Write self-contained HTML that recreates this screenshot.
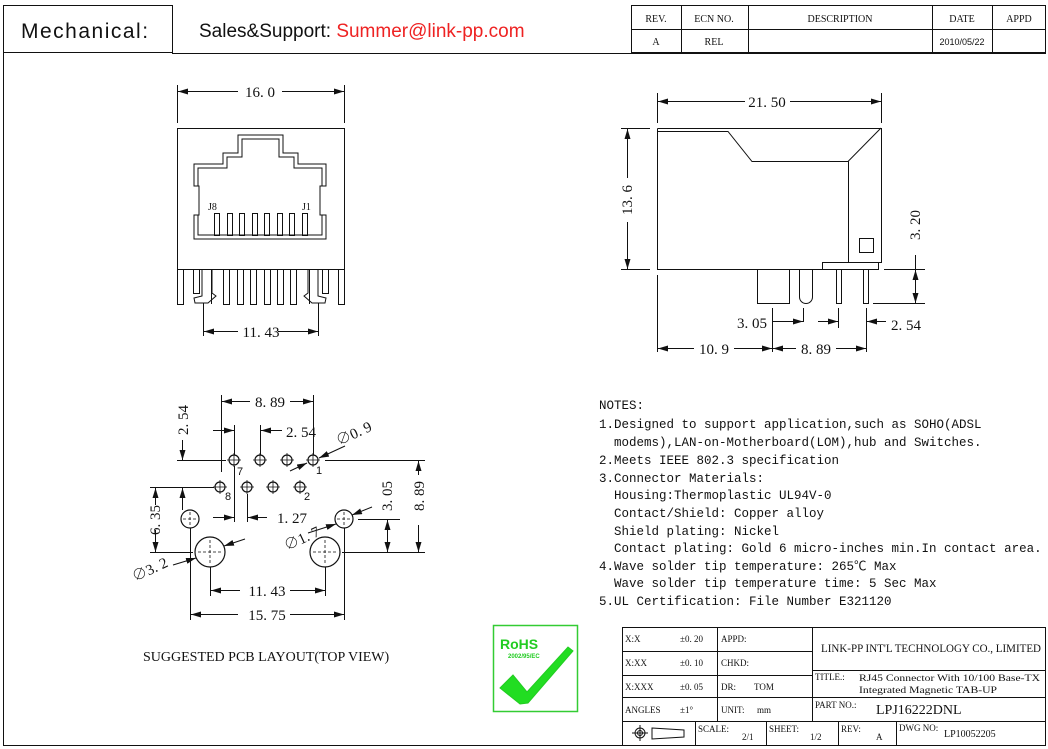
<!DOCTYPE html>
<html><head><meta charset="utf-8"><style>
html,body{margin:0;padding:0;background:#fff;}
svg{display:block;}
text{font-family:"Liberation Serif","Noto Serif CJK SC",serif;fill:#111;}
text.s{font-family:"Liberation Sans","Noto Sans CJK SC",sans-serif;}
.m text{font-family:"Liberation Mono","Noto Sans CJK SC",monospace;}
</style></head><body>
<svg width="1048" height="749" viewBox="0 0 1048 749" xmlns="http://www.w3.org/2000/svg">
<defs>
<marker id="a" viewBox="0 0 10 6" refX="10" refY="3" markerWidth="10" markerHeight="6" orient="auto-start-reverse" markerUnits="userSpaceOnUse"><path d="M0,0L10,3L0,6z" fill="#111"/></marker>
</defs>
<g fill="none" stroke="#111" stroke-width="1">
<rect x="3.5" y="5.5" width="169" height="47"/>
<line x1="3.5" y1="52.5" x2="3.5" y2="745.5"/>
<line x1="172" y1="53.5" x2="1046" y2="53.5"/>
<line x1="3" y1="745.5" x2="1046" y2="745.5"/>
<rect x="631.5" y="5.5" width="414" height="47"/>
<line x1="631" y1="29.5" x2="1046" y2="29.5"/>
<line x1="681.5" y1="5" x2="681.5" y2="52"/>
<line x1="748.5" y1="5" x2="748.5" y2="52"/>
<line x1="932.5" y1="5" x2="932.5" y2="52"/>
<line x1="992.5" y1="5" x2="992.5" y2="52"/>

<rect x="177.5" y="128.5" width="167" height="141"/>
<path d="M194,186V164H223V153H238V135H283V153H298V164H326V186H320V215H326V239H194V215H199V186Z"/>
<path d="M198,186V168H227V157H242V139H279V157H294V168H322V186M322,215V235H198V215"/>
<g>
<rect x="214.5" y="213.5" width="5" height="22"/><rect x="227.5" y="213.5" width="5" height="22"/><rect x="239.5" y="213.5" width="5" height="22"/><rect x="252.5" y="213.5" width="5" height="22"/><rect x="264.5" y="213.5" width="5" height="22"/><rect x="277.5" y="213.5" width="5" height="22"/><rect x="289.5" y="213.5" width="5" height="22"/><rect x="302.5" y="213.5" width="5" height="22"/>
</g>
<g>
<rect x="177.5" y="269.5" width="6" height="35"/><rect x="193.5" y="269.5" width="6" height="24"/><rect x="223.5" y="269.5" width="6" height="35"/><rect x="237.5" y="269.5" width="6" height="35"/><rect x="250.5" y="269.5" width="6" height="35"/><rect x="264.5" y="269.5" width="6" height="35"/><rect x="277.5" y="269.5" width="6" height="35"/><rect x="290.5" y="269.5" width="6" height="35"/><rect x="322.5" y="269.5" width="6" height="24"/><rect x="338.5" y="269.5" width="6" height="35"/>
<path d="M202,269V296L194,298L195,303H208L216,296L212,293V269"/>
<path d="M318,269V296L326,298L325,303H312L304,296L308,293V269"/>
<line x1="211.5" y1="269" x2="211.5" y2="304"/><line x1="309.5" y1="269" x2="309.5" y2="304"/>
</g>
<line x1="177.5" y1="85" x2="177.5" y2="123"/><line x1="344.5" y1="85" x2="344.5" y2="123"/>
<line x1="178" y1="91.5" x2="238" y2="91.5" marker-start="url(#a)"/><line x1="282" y1="91.5" x2="344" y2="91.5" marker-end="url(#a)"/>
<line x1="203.5" y1="303" x2="203.5" y2="336"/><line x1="318.5" y1="303" x2="318.5" y2="336"/>
<line x1="204" y1="331.5" x2="238" y2="331.5" marker-start="url(#a)"/><line x1="278" y1="331.5" x2="318" y2="331.5" marker-end="url(#a)"/>

<path d="M657.5,128.5H881.5V262.5H848.5V161.5M657.5,128.5V269.5H822.5"/>
<path d="M657,131.5H728L752,161.5H848L881,128"/>
<rect x="822.5" y="262.5" width="56" height="7"/>
<rect x="859.5" y="238.5" width="14" height="14"/>
<path d="M757.5,269.5V303.5H789.5V269.5"/>
<path d="M799.5,269.5V297A6.5,6.5 0 0 0 812.5,297V269.5"/>
<rect x="836.5" y="269.5" width="5" height="34"/><rect x="863.5" y="269.5" width="5" height="34"/>
<line x1="657.5" y1="93" x2="657.5" y2="123"/><line x1="881.5" y1="93" x2="881.5" y2="123"/>
<line x1="658" y1="101.5" x2="745" y2="101.5" marker-start="url(#a)"/><line x1="790" y1="101.5" x2="881" y2="101.5" marker-end="url(#a)"/>
<line x1="621" y1="128.5" x2="650" y2="128.5"/><line x1="621" y1="269.5" x2="650" y2="269.5"/>
<line x1="627.5" y1="129" x2="627.5" y2="178" marker-start="url(#a)"/><line x1="627.5" y1="222" x2="627.5" y2="269" marker-end="url(#a)"/>
<line x1="884" y1="269.5" x2="925" y2="269.5"/><line x1="873" y1="303.5" x2="925" y2="303.5"/>
<line x1="915.5" y1="255" x2="915.5" y2="303" marker-end="url(#a)"/><line x1="915.5" y1="285" x2="915.5" y2="270" marker-end="url(#a)"/>
<line x1="657.5" y1="275" x2="657.5" y2="352"/>
<line x1="772.5" y1="308" x2="772.5" y2="352"/><line x1="803.5" y1="308" x2="803.5" y2="322"/>
<line x1="838.5" y1="308" x2="838.5" y2="328"/><line x1="866.5" y1="308" x2="866.5" y2="352"/>
<line x1="773" y1="321.5" x2="803" y2="321.5" marker-end="url(#a)"/>
<line x1="818" y1="321.5" x2="838" y2="321.5" marker-end="url(#a)"/>
<line x1="886" y1="321.5" x2="867" y2="321.5" marker-end="url(#a)"/>
<line x1="658" y1="348.5" x2="694" y2="348.5" marker-start="url(#a)"/><line x1="734" y1="348.5" x2="772" y2="348.5" marker-end="url(#a)"/>
<line x1="773" y1="348.5" x2="796" y2="348.5" marker-start="url(#a)"/><line x1="836" y1="348.5" x2="866" y2="348.5" marker-end="url(#a)"/>

<g stroke-width="1.2">
<circle cx="234" cy="460" r="5"/><circle cx="260" cy="460" r="5"/><circle cx="287" cy="460" r="5"/><circle cx="313" cy="460" r="5"/>
<circle cx="220" cy="487" r="5"/><circle cx="247" cy="487" r="5"/><circle cx="273" cy="487" r="5"/><circle cx="300" cy="487" r="5"/>
<circle cx="190" cy="519" r="9"/><circle cx="344" cy="519" r="9"/>
<circle cx="210" cy="552" r="15"/><circle cx="325" cy="552" r="15"/>
</g>
<path d="M227,460h14M253,460h14M280,460h14M306,460h14M234,453v14M260,453v14M287,453v14M313,453v14M213,487h14M240,487h14M266,487h14M293,487h14M220,480v14M247,480v14M273,480v14M300,480v14" stroke-width="0.8"/>
<path d="M183,519h14M190,512v14M337,519h14M344,512v14M198,552h24M210,540v24M313,552h24M325,540v24" stroke-dasharray="3,2" stroke-width="0.8"/>
<line x1="221.5" y1="395" x2="221.5" y2="472"/><line x1="313.5" y1="395" x2="313.5" y2="455"/>
<line x1="222" y1="401.5" x2="250" y2="401.5" marker-start="url(#a)"/><line x1="290" y1="401.5" x2="313" y2="401.5" marker-end="url(#a)"/>
<line x1="234.5" y1="425" x2="234.5" y2="455"/><line x1="234.5" y1="466" x2="234.5" y2="522"/>
<line x1="213" y1="430.5" x2="234" y2="430.5" marker-end="url(#a)"/>
<line x1="260.5" y1="425" x2="260.5" y2="455"/>
<line x1="282" y1="430.5" x2="261" y2="430.5" marker-end="url(#a)"/>
<line x1="177" y1="460.5" x2="226" y2="460.5"/>
<line x1="182.5" y1="440" x2="182.5" y2="460" marker-end="url(#a)"/>
<line x1="150" y1="487.5" x2="214" y2="487.5"/><line x1="150" y1="552.5" x2="193" y2="552.5"/>
<line x1="155.5" y1="488" x2="155.5" y2="505" marker-start="url(#a)"/><line x1="155.5" y1="530" x2="155.5" y2="552" marker-end="url(#a)"/>
<line x1="182.5" y1="510" x2="182.5" y2="488" marker-end="url(#a)"/>
<line x1="247.5" y1="494" x2="247.5" y2="522"/>
<line x1="213" y1="517.5" x2="234" y2="517.5" marker-end="url(#a)"/>
<line x1="267" y1="517.5" x2="248" y2="517.5" marker-end="url(#a)"/>
<line x1="358" y1="519.5" x2="400" y2="519.5"/><line x1="342" y1="552.5" x2="425" y2="552.5"/>
<line x1="387.5" y1="535" x2="387.5" y2="520" marker-end="url(#a)"/><line x1="387.5" y1="535" x2="387.5" y2="552" marker-end="url(#a)"/>
<line x1="325" y1="460.5" x2="425" y2="460.5"/>
<line x1="418.5" y1="475" x2="418.5" y2="461" marker-end="url(#a)"/><line x1="418.5" y1="525" x2="418.5" y2="552" marker-end="url(#a)"/>
<line x1="290" y1="471" x2="307" y2="463" marker-end="url(#a)"/><line x1="345" y1="446" x2="319" y2="458" marker-end="url(#a)"/>
<line x1="372" y1="507" x2="352" y2="515" marker-end="url(#a)"/><line x1="308" y1="533" x2="336" y2="524" marker-end="url(#a)"/>
<line x1="245" y1="539" x2="224" y2="546" marker-end="url(#a)"/><line x1="173" y1="565" x2="196" y2="558" marker-end="url(#a)"/>
<line x1="190.5" y1="528" x2="190.5" y2="620"/><line x1="344.5" y1="528" x2="344.5" y2="620"/>
<line x1="210.5" y1="567" x2="210.5" y2="596"/><line x1="325.5" y1="567" x2="325.5" y2="596"/>
<line x1="211" y1="590.5" x2="240" y2="590.5" marker-start="url(#a)"/><line x1="290" y1="590.5" x2="325" y2="590.5" marker-end="url(#a)"/>
<line x1="191" y1="614.5" x2="238" y2="614.5" marker-start="url(#a)"/><line x1="290" y1="614.5" x2="344" y2="614.5" marker-end="url(#a)"/>

<rect x="493.5" y="625.5" width="84" height="86" stroke="#3c3" stroke-width="1.5"/>
<path d="M500,688L513,675L527,692L568,647L573,651L528,703L520,704Z" fill="#2d2" stroke="#2c2"/>

<rect x="622.5" y="627.5" width="423" height="118"/>
<line x1="622" y1="651.5" x2="812" y2="651.5"/><line x1="622" y1="675.5" x2="812" y2="675.5"/>
<line x1="622" y1="697.5" x2="812" y2="697.5"/><line x1="622" y1="721.5" x2="1046" y2="721.5"/>
<line x1="812" y1="670.5" x2="1046" y2="670.5"/><line x1="812" y1="697.5" x2="1046" y2="697.5"/>
<line x1="717.5" y1="627" x2="717.5" y2="721"/><line x1="812.5" y1="627" x2="812.5" y2="721"/>
<line x1="695.5" y1="721" x2="695.5" y2="745"/><line x1="766.5" y1="721" x2="766.5" y2="745"/>
<line x1="838.5" y1="721" x2="838.5" y2="745"/><line x1="896.5" y1="721" x2="896.5" y2="745"/>
<circle cx="640" cy="733" r="5"/><circle cx="640" cy="733" r="2.5"/><path d="M632,733h16M640,725v16"/>
<path d="M652,728L684,730V737L652,739Z"/>
</g>

<text x="21" y="38" class="s" font-size="21" style="letter-spacing:1.5px">Mechanical:</text>
<text x="199" y="37" class="s" font-size="19">Sales&amp;Support: <tspan style="fill:#e22">Summer@link-pp.com</tspan></text>
<g font-size="10" text-anchor="middle">
<text x="656" y="22">REV.</text><text x="714" y="22">ECN NO.</text><text x="840" y="22">DESCRIPTION</text><text x="962" y="22">DATE</text><text x="1019" y="22">APPD</text>
<text x="656" y="45">A</text><text x="714" y="45">REL</text><text x="962" y="45" class="s" font-size="9">2010/05/22</text>
</g>
<g font-size="15" text-anchor="middle">
<text x="260" y="97">16. 0</text>
<text x="261" y="337">11. 43</text>
<text x="767" y="107">21. 50</text>
<text x="632" y="200" transform="rotate(-90 632 200)">13. 6</text>
<text x="920" y="225" transform="rotate(-90 920 225)">3. 20</text>
<text x="752" y="328">3. 05</text>
<text x="906" y="330">2. 54</text>
<text x="714" y="354">10. 9</text>
<text x="816" y="354">8. 89</text>
<text x="270" y="407">8. 89</text>
<text x="188" y="420" transform="rotate(-90 188 420)">2. 54</text>
<text x="301" y="437">2. 54</text>
<text x="356" y="438" transform="rotate(-25 356 438)">∅0. 9</text>
<text x="160" y="520" transform="rotate(-90 160 520)">6. 35</text>
<text x="292" y="523">1. 27</text>
<text x="392" y="496" transform="rotate(-90 392 496)">3. 05</text>
<text x="424" y="496" transform="rotate(-90 424 496)">8. 89</text>
<text x="304" y="543" transform="rotate(-25 304 543)">∅1. 7</text>
<text x="152" y="574" transform="rotate(-25 152 574)">∅3. 2</text>
<text x="267" y="596">11. 43</text>
<text x="267" y="620">15. 75</text>
</g>
<g font-size="10"><text x="208" y="210">J8</text><text x="302" y="210">J1</text>
<text x="237" y="475" class="s" font-size="11">7</text><text x="316" y="474" class="s" font-size="11">1</text>
<text x="225" y="500" class="s" font-size="11">8</text><text x="304" y="500" class="s" font-size="11">2</text></g>
<text x="143" y="661" font-size="14">SUGGESTED PCB LAYOUT(TOP VIEW)</text>
<g class="m" font-size="12.5">
<text x="599" y="409">NOTES:</text>
<text x="599" y="428">1.Designed to support application,such as SOHO(ADSL</text>
<text x="614" y="446">modems),LAN-on-Motherboard(LOM),hub and Switches.</text>
<text x="599" y="464">2.Meets IEEE 802.3 specification</text>
<text x="599" y="482">3.Connector Materials:</text>
<text x="614" y="499">Housing:Thermoplastic UL94V-0</text>
<text x="614" y="517">Contact/Shield: Copper alloy</text>
<text x="614" y="535">Shield plating: Nickel</text>
<text x="614" y="552">Contact plating: Gold 6 micro-inches min.In contact area.</text>
<text x="599" y="570">4.Wave solder tip temperature: 265℃ Max</text>
<text x="614" y="587">Wave solder tip temperature time: 5 Sec Max</text>
<text x="599" y="605">5.UL Certification: File Number E321120</text>
</g>
<text x="500" y="649" class="s" font-size="14" font-weight="bold" style="fill:#2c2">RoHS</text>
<text x="508" y="658" class="s" font-size="6" font-weight="bold" style="fill:#2c2">2002/95/EC</text>
<g font-size="9">
<text x="625" y="642">X:X</text><text x="680" y="642">±0. 20</text><text x="721" y="642">APPD:</text>
<text x="625" y="666">X:XX</text><text x="680" y="666">±0. 10</text><text x="721" y="666">CHKD:</text>
<text x="625" y="690">X:XXX</text><text x="680" y="690">±0. 05</text><text x="721" y="690">DR:</text><text x="754" y="690">TOM</text>
<text x="625" y="713">ANGLES</text><text x="680" y="713">±1°</text><text x="721" y="713">UNIT:</text><text x="757" y="713">mm</text>
<text x="698" y="732">SCALE:</text><text x="742" y="740">2/1</text>
<text x="769" y="732">SHEET:</text><text x="810" y="740">1/2</text>
<text x="841" y="732">REV:</text><text x="876" y="740">A</text>
<text x="899" y="731">DWG NO:</text><text x="944" y="737" font-size="10">LP10052205</text>
<text x="815" y="680">TITLE.:</text>
<text x="859" y="681" font-size="9.5" textLength="181" lengthAdjust="spacingAndGlyphs">RJ45 Connector With 10/100 Base-TX</text>
<text x="859" y="693" font-size="9.5" textLength="138" lengthAdjust="spacingAndGlyphs">Integrated Magnetic TAB-UP</text>
<text x="815" y="708">PART NO.:</text>
</g>
<text x="821" y="652" font-size="11.5" textLength="220" lengthAdjust="spacingAndGlyphs">LINK-PP INT'L TECHNOLOGY CO., LIMITED</text>
<text x="876" y="714" font-size="14">LPJ16222DNL</text>
</svg>
</body></html>
